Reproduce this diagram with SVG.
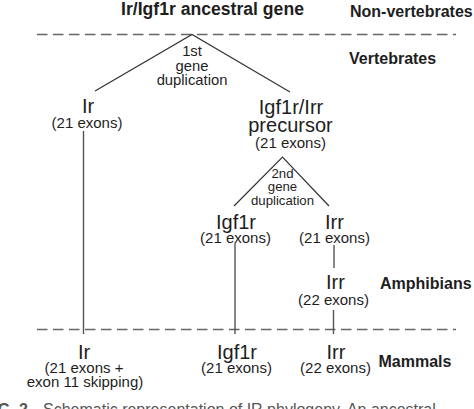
<svg xmlns="http://www.w3.org/2000/svg" width="474" height="409" viewBox="0 0 474 409">
<style>
text{font-family:"Liberation Sans",Arial,sans-serif;fill:#1e1e1e}
.big{font-size:20px;text-anchor:middle}
.sub{font-size:15px;text-anchor:middle}
.dup1{font-size:14.8px;text-anchor:middle}
.dup2{font-size:13.2px;text-anchor:middle}
.reg{font-size:16px;font-weight:bold}
.ttl{font-size:17.6px;font-weight:bold;text-anchor:middle}
.cap{font-size:16px;fill:#555}
.edge{stroke:#333;stroke-width:1.2;fill:none}
.vline{stroke:#555;stroke-width:1.4;fill:none}
.dash{stroke:#666;stroke-width:1.5;stroke-dasharray:10.5 5.5;fill:none}
</style>
<rect width="474" height="409" fill="#fff"/>
<g id="dividers">
<line class="dash" x1="37" y1="34.5" x2="456" y2="34.5"/>
<line class="dash" x1="37" y1="329.5" x2="456" y2="329.5"/>
</g>
<g id="connectors">
<polyline class="edge" points="95,91 192,34.5 290,92"/>
<polyline class="edge" points="234,206 282.5,157 329,206"/>
<line class="vline" x1="83.5" y1="131" x2="83.5" y2="334"/>
<line class="vline" x1="235" y1="243" x2="235" y2="334"/>
<line class="vline" x1="334" y1="245" x2="334" y2="268"/>
<line class="vline" x1="333.5" y1="310" x2="333.5" y2="334"/>
</g>
<g id="regions">
<text class="reg" x="350" y="17">Non-vertebrates</text>
<text class="reg" x="349" y="64">Vertebrates</text>
<text class="reg" x="380" y="289">Amphibians</text>
<text class="reg" x="378.5" y="367">Mammals</text>
</g>
<g id="ancestral"><text class="ttl" x="212.5" y="14.5">Ir/Igf1r ancestral gene</text></g>
<g id="dup1">
<text class="dup1" x="192" y="56">1st</text>
<text class="dup1" x="192" y="70.5">gene</text>
<text class="dup1" x="192" y="84.5">duplication</text>
</g>
<g id="ir-vert">
<text class="big" x="88" y="113">Ir</text>
<text class="sub" x="87" y="127.5">(21 exons)</text>
</g>
<g id="precursor">
<text class="big" x="291" y="113.5">Igf1r/Irr</text>
<text class="big" x="290.5" y="131.5">precursor</text>
<text class="sub" x="290.5" y="148">(21 exons)</text>
</g>
<g id="dup2">
<text class="dup2" x="282.5" y="177.5">2nd</text>
<text class="dup2" x="282.5" y="191">gene</text>
<text class="dup2" x="282.5" y="204.5">duplication</text>
</g>
<g id="igf1r-vert">
<text class="big" x="236" y="228.5">Igf1r</text>
<text class="sub" x="235.5" y="243">(21 exons)</text>
</g>
<g id="irr-vert">
<text class="big" x="334.5" y="228.5">Irr</text>
<text class="sub" x="334.5" y="243">(21 exons)</text>
</g>
<g id="irr-amph">
<text class="big" x="335.5" y="289">Irr</text>
<text class="sub" x="333.5" y="305">(22 exons)</text>
</g>
<g id="ir-mamm">
<text class="big" x="84" y="359">Ir</text>
<text class="sub" x="84" y="373">(21 exons +</text>
<text class="sub" x="85" y="386.5">exon 11 skipping)</text>
</g>
<g id="igf1r-mamm">
<text class="big" x="237" y="359">Igf1r</text>
<text class="sub" x="236.5" y="373">(21 exons)</text>
</g>
<g id="irr-mamm">
<text class="big" x="336" y="359">Irr</text>
<text class="sub" x="335.5" y="373">(22 exons)</text>
</g>
<g id="caption">
<text class="cap" x="28" y="414.5" text-anchor="end" font-weight="bold">FIG. 2</text>
<text class="cap" x="43" y="414.5">Schematic representation of IR phylogeny. An ancestral</text>
</g>
</svg>
